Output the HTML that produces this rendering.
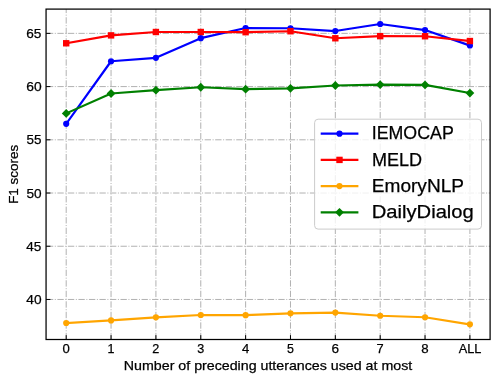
<!DOCTYPE html>
<html><head><meta charset="utf-8"><style>
html,body{margin:0;padding:0;background:#fff;}
body{width:499px;height:382px;overflow:hidden;}
svg{display:block;will-change:transform;font-family:"Liberation Sans", sans-serif;}
</style></head><body>
<svg width="499" height="382" viewBox="0 0 499 382">
<rect width="499" height="382" fill="#fff"/>
<path d="M66.20 339.50V9.10" stroke="#b0b0b0" stroke-width="0.99" stroke-dasharray="6.35 1.59 0.99 1.59" stroke-dashoffset="-0.3" fill="none"/>
<path d="M111.06 339.50V9.10" stroke="#b0b0b0" stroke-width="0.99" stroke-dasharray="6.35 1.59 0.99 1.59" stroke-dashoffset="-0.3" fill="none"/>
<path d="M155.91 339.50V9.10" stroke="#b0b0b0" stroke-width="0.99" stroke-dasharray="6.35 1.59 0.99 1.59" stroke-dashoffset="-0.3" fill="none"/>
<path d="M200.77 339.50V9.10" stroke="#b0b0b0" stroke-width="0.99" stroke-dasharray="6.35 1.59 0.99 1.59" stroke-dashoffset="-0.3" fill="none"/>
<path d="M245.62 339.50V9.10" stroke="#b0b0b0" stroke-width="0.99" stroke-dasharray="6.35 1.59 0.99 1.59" stroke-dashoffset="-0.3" fill="none"/>
<path d="M290.48 339.50V9.10" stroke="#b0b0b0" stroke-width="0.99" stroke-dasharray="6.35 1.59 0.99 1.59" stroke-dashoffset="-0.3" fill="none"/>
<path d="M335.33 339.50V9.10" stroke="#b0b0b0" stroke-width="0.99" stroke-dasharray="6.35 1.59 0.99 1.59" stroke-dashoffset="-0.3" fill="none"/>
<path d="M380.19 339.50V9.10" stroke="#b0b0b0" stroke-width="0.99" stroke-dasharray="6.35 1.59 0.99 1.59" stroke-dashoffset="-0.3" fill="none"/>
<path d="M425.04 339.50V9.10" stroke="#b0b0b0" stroke-width="0.99" stroke-dasharray="6.35 1.59 0.99 1.59" stroke-dashoffset="-0.3" fill="none"/>
<path d="M469.90 339.50V9.10" stroke="#b0b0b0" stroke-width="0.99" stroke-dasharray="6.35 1.59 0.99 1.59" stroke-dashoffset="-0.3" fill="none"/>
<path d="M46.06 299.46H490.10" stroke="#b0b0b0" stroke-width="0.99" stroke-dasharray="6.35 1.59 0.99 1.59" stroke-dashoffset="-0.8" fill="none"/>
<path d="M46.06 246.24H490.10" stroke="#b0b0b0" stroke-width="0.99" stroke-dasharray="6.35 1.59 0.99 1.59" stroke-dashoffset="-0.8" fill="none"/>
<path d="M46.06 193.02H490.10" stroke="#b0b0b0" stroke-width="0.99" stroke-dasharray="6.35 1.59 0.99 1.59" stroke-dashoffset="-0.8" fill="none"/>
<path d="M46.06 139.81H490.10" stroke="#b0b0b0" stroke-width="0.99" stroke-dasharray="6.35 1.59 0.99 1.59" stroke-dashoffset="-0.8" fill="none"/>
<path d="M46.06 86.59H490.10" stroke="#b0b0b0" stroke-width="0.99" stroke-dasharray="6.35 1.59 0.99 1.59" stroke-dashoffset="-0.8" fill="none"/>
<path d="M46.06 33.37H490.10" stroke="#b0b0b0" stroke-width="0.99" stroke-dasharray="6.35 1.59 0.99 1.59" stroke-dashoffset="-0.8" fill="none"/>
<polyline points="66.20,123.84 111.06,61.26 155.91,57.85 200.77,38.16 245.62,28.05 290.48,28.26 335.33,31.03 380.19,24.00 425.04,30.07 469.90,45.50" fill="none" stroke="#0000ff" stroke-width="2.2" stroke-linejoin="round" stroke-linecap="square"/>
<circle cx="66.20" cy="123.84" r="3.1" fill="#0000ff"/>
<circle cx="111.06" cy="61.26" r="3.1" fill="#0000ff"/>
<circle cx="155.91" cy="57.85" r="3.1" fill="#0000ff"/>
<circle cx="200.77" cy="38.16" r="3.1" fill="#0000ff"/>
<circle cx="245.62" cy="28.05" r="3.1" fill="#0000ff"/>
<circle cx="290.48" cy="28.26" r="3.1" fill="#0000ff"/>
<circle cx="335.33" cy="31.03" r="3.1" fill="#0000ff"/>
<circle cx="380.19" cy="24.00" r="3.1" fill="#0000ff"/>
<circle cx="425.04" cy="30.07" r="3.1" fill="#0000ff"/>
<circle cx="469.90" cy="45.50" r="3.1" fill="#0000ff"/>
<polyline points="66.20,43.27 111.06,35.39 155.91,31.99 200.77,31.99 245.62,32.20 290.48,31.24 335.33,38.27 380.19,36.14 425.04,36.24 469.90,41.03" fill="none" stroke="#ff0000" stroke-width="2.2" stroke-linejoin="round" stroke-linecap="square"/>
<rect x="63.00" y="40.07" width="6.4" height="6.4" fill="#ff0000"/>
<rect x="107.86" y="32.19" width="6.4" height="6.4" fill="#ff0000"/>
<rect x="152.71" y="28.79" width="6.4" height="6.4" fill="#ff0000"/>
<rect x="197.57" y="28.79" width="6.4" height="6.4" fill="#ff0000"/>
<rect x="242.42" y="29.00" width="6.4" height="6.4" fill="#ff0000"/>
<rect x="287.28" y="28.04" width="6.4" height="6.4" fill="#ff0000"/>
<rect x="332.13" y="35.07" width="6.4" height="6.4" fill="#ff0000"/>
<rect x="376.99" y="32.94" width="6.4" height="6.4" fill="#ff0000"/>
<rect x="421.84" y="33.04" width="6.4" height="6.4" fill="#ff0000"/>
<rect x="466.70" y="37.83" width="6.4" height="6.4" fill="#ff0000"/>
<polyline points="66.20,322.98 111.06,320.43 155.91,317.34 200.77,315.00 245.62,315.21 290.48,313.30 335.33,312.55 380.19,315.74 425.04,317.23 469.90,324.37" fill="none" stroke="#ffa500" stroke-width="2.2" stroke-linejoin="round" stroke-linecap="square"/>
<circle cx="66.20" cy="322.98" r="3.1" fill="#ffa500"/>
<circle cx="111.06" cy="320.43" r="3.1" fill="#ffa500"/>
<circle cx="155.91" cy="317.34" r="3.1" fill="#ffa500"/>
<circle cx="200.77" cy="315.00" r="3.1" fill="#ffa500"/>
<circle cx="245.62" cy="315.21" r="3.1" fill="#ffa500"/>
<circle cx="290.48" cy="313.30" r="3.1" fill="#ffa500"/>
<circle cx="335.33" cy="312.55" r="3.1" fill="#ffa500"/>
<circle cx="380.19" cy="315.74" r="3.1" fill="#ffa500"/>
<circle cx="425.04" cy="317.23" r="3.1" fill="#ffa500"/>
<circle cx="469.90" cy="324.37" r="3.1" fill="#ffa500"/>
<polyline points="66.20,113.41 111.06,93.51 155.91,90.21 200.77,87.23 245.62,89.14 290.48,88.29 335.33,85.52 380.19,84.67 425.04,84.89 469.90,93.08" fill="none" stroke="#008000" stroke-width="2.2" stroke-linejoin="round" stroke-linecap="square"/>
<path d="M66.20 109.01L70.60 113.41L66.20 117.81L61.80 113.41Z" fill="#008000"/>
<path d="M111.06 89.11L115.46 93.51L111.06 97.91L106.66 93.51Z" fill="#008000"/>
<path d="M155.91 85.81L160.31 90.21L155.91 94.61L151.51 90.21Z" fill="#008000"/>
<path d="M200.77 82.83L205.17 87.23L200.77 91.63L196.37 87.23Z" fill="#008000"/>
<path d="M245.62 84.74L250.02 89.14L245.62 93.54L241.22 89.14Z" fill="#008000"/>
<path d="M290.48 83.89L294.88 88.29L290.48 92.69L286.08 88.29Z" fill="#008000"/>
<path d="M335.33 81.12L339.73 85.52L335.33 89.92L330.93 85.52Z" fill="#008000"/>
<path d="M380.19 80.27L384.59 84.67L380.19 89.07L375.79 84.67Z" fill="#008000"/>
<path d="M425.04 80.49L429.44 84.89L425.04 89.29L420.64 84.89Z" fill="#008000"/>
<path d="M469.90 88.68L474.30 93.08L469.90 97.48L465.50 93.08Z" fill="#008000"/>
<rect x="46.06" y="9.10" width="444.04" height="330.40" fill="none" stroke="#000" stroke-width="1.25"/>
<path d="M66.20 339.50V335.16" stroke="#000" stroke-width="1"/>
<path d="M111.06 339.50V335.16" stroke="#000" stroke-width="1"/>
<path d="M155.91 339.50V335.16" stroke="#000" stroke-width="1"/>
<path d="M200.77 339.50V335.16" stroke="#000" stroke-width="1"/>
<path d="M245.62 339.50V335.16" stroke="#000" stroke-width="1"/>
<path d="M290.48 339.50V335.16" stroke="#000" stroke-width="1"/>
<path d="M335.33 339.50V335.16" stroke="#000" stroke-width="1"/>
<path d="M380.19 339.50V335.16" stroke="#000" stroke-width="1"/>
<path d="M425.04 339.50V335.16" stroke="#000" stroke-width="1"/>
<path d="M469.90 339.50V335.16" stroke="#000" stroke-width="1"/>
<path d="M46.06 299.46H50.40" stroke="#000" stroke-width="1"/>
<path d="M46.06 246.24H50.40" stroke="#000" stroke-width="1"/>
<path d="M46.06 193.02H50.40" stroke="#000" stroke-width="1"/>
<path d="M46.06 139.81H50.40" stroke="#000" stroke-width="1"/>
<path d="M46.06 86.59H50.40" stroke="#000" stroke-width="1"/>
<path d="M46.06 33.37H50.40" stroke="#000" stroke-width="1"/>
<rect x="314.6" y="119.2" width="166.90" height="109.90" rx="3.5" ry="3.5" fill="#fff" fill-opacity="0.8" stroke="#cccccc" stroke-width="1"/>
<path d="M321.80 133.70H357.30" stroke="#0000ff" stroke-width="2.2" stroke-linecap="square"/>
<circle cx="339.50" cy="133.70" r="3.1" fill="#0000ff"/>
<text x="371.76" y="139.30" font-size="18.33" textLength="82.00" lengthAdjust="spacingAndGlyphs" fill="#000" stroke="#000" stroke-width="0.25">IEMOCAP</text>
<path d="M321.80 159.90H357.30" stroke="#ff0000" stroke-width="2.2" stroke-linecap="square"/>
<rect x="336.30" y="156.70" width="6.4" height="6.4" fill="#ff0000"/>
<text x="371.92" y="165.60" font-size="18.33" textLength="50.12" lengthAdjust="spacingAndGlyphs" fill="#000" stroke="#000" stroke-width="0.25">MELD</text>
<path d="M321.80 186.10H357.30" stroke="#ffa500" stroke-width="2.2" stroke-linecap="square"/>
<circle cx="339.50" cy="186.10" r="3.1" fill="#ffa500"/>
<text x="371.84" y="191.90" font-size="18.33" textLength="92.16" lengthAdjust="spacingAndGlyphs" fill="#000" stroke="#000" stroke-width="0.25">EmoryNLP</text>
<path d="M321.80 212.30H357.30" stroke="#008000" stroke-width="2.2" stroke-linecap="square"/>
<path d="M339.50 207.90L343.90 212.30L339.50 216.70L335.10 212.30Z" fill="#008000"/>
<text x="371.74" y="218.20" font-size="18.33" textLength="102.04" lengthAdjust="spacingAndGlyphs" fill="#000" stroke="#000" stroke-width="0.25">DailyDialog</text>
<text x="62.55" y="353.00" font-size="13.19" textLength="7.30" lengthAdjust="spacingAndGlyphs" fill="#000" stroke="#000" stroke-width="0.25">0</text>
<text x="107.51" y="353.00" font-size="13.19" textLength="6.97" lengthAdjust="spacingAndGlyphs" fill="#000" stroke="#000" stroke-width="0.25">1</text>
<text x="152.23" y="353.00" font-size="13.19" textLength="7.04" lengthAdjust="spacingAndGlyphs" fill="#000" stroke="#000" stroke-width="0.25">2</text>
<text x="197.27" y="353.00" font-size="13.19" textLength="7.01" lengthAdjust="spacingAndGlyphs" fill="#000" stroke="#000" stroke-width="0.25">3</text>
<text x="241.97" y="353.00" font-size="13.19" textLength="7.30" lengthAdjust="spacingAndGlyphs" fill="#000" stroke="#000" stroke-width="0.25">4</text>
<text x="286.98" y="353.00" font-size="13.19" textLength="6.89" lengthAdjust="spacingAndGlyphs" fill="#000" stroke="#000" stroke-width="0.25">5</text>
<text x="331.55" y="353.00" font-size="13.19" textLength="7.55" lengthAdjust="spacingAndGlyphs" fill="#000" stroke="#000" stroke-width="0.25">6</text>
<text x="376.59" y="353.00" font-size="13.19" textLength="7.14" lengthAdjust="spacingAndGlyphs" fill="#000" stroke="#000" stroke-width="0.25">7</text>
<text x="421.35" y="353.00" font-size="13.19" textLength="7.38" lengthAdjust="spacingAndGlyphs" fill="#000" stroke="#000" stroke-width="0.25">8</text>
<text x="458.78" y="353.00" font-size="13.19" textLength="22.67" lengthAdjust="spacingAndGlyphs" fill="#000" stroke="#000" stroke-width="0.25">ALL</text>
<text x="26.35" y="304.00" font-size="13.19" textLength="15.26" lengthAdjust="spacingAndGlyphs" fill="#000" stroke="#000" stroke-width="0.25">40</text>
<text x="26.36" y="250.78" font-size="13.19" textLength="15.02" lengthAdjust="spacingAndGlyphs" fill="#000" stroke="#000" stroke-width="0.25">45</text>
<text x="26.47" y="197.56" font-size="13.19" textLength="15.13" lengthAdjust="spacingAndGlyphs" fill="#000" stroke="#000" stroke-width="0.25">50</text>
<text x="26.48" y="144.34" font-size="13.19" textLength="14.89" lengthAdjust="spacingAndGlyphs" fill="#000" stroke="#000" stroke-width="0.25">55</text>
<text x="26.22" y="91.13" font-size="13.19" textLength="15.39" lengthAdjust="spacingAndGlyphs" fill="#000" stroke="#000" stroke-width="0.25">60</text>
<text x="26.24" y="37.91" font-size="13.19" textLength="15.15" lengthAdjust="spacingAndGlyphs" fill="#000" stroke="#000" stroke-width="0.25">65</text>
<text x="123.83" y="370.00" font-size="13.19" textLength="288.36" lengthAdjust="spacingAndGlyphs" fill="#000" stroke="#000" stroke-width="0.25">Number of preceding utterances used at most</text>
<g transform="translate(17.8,0) rotate(-90)"><text x="-203.86" y="0.00" font-size="13.19" textLength="59.01" lengthAdjust="spacingAndGlyphs" fill="#000" stroke="#000" stroke-width="0.25">F1 scores</text></g>
</svg>
</body></html>
